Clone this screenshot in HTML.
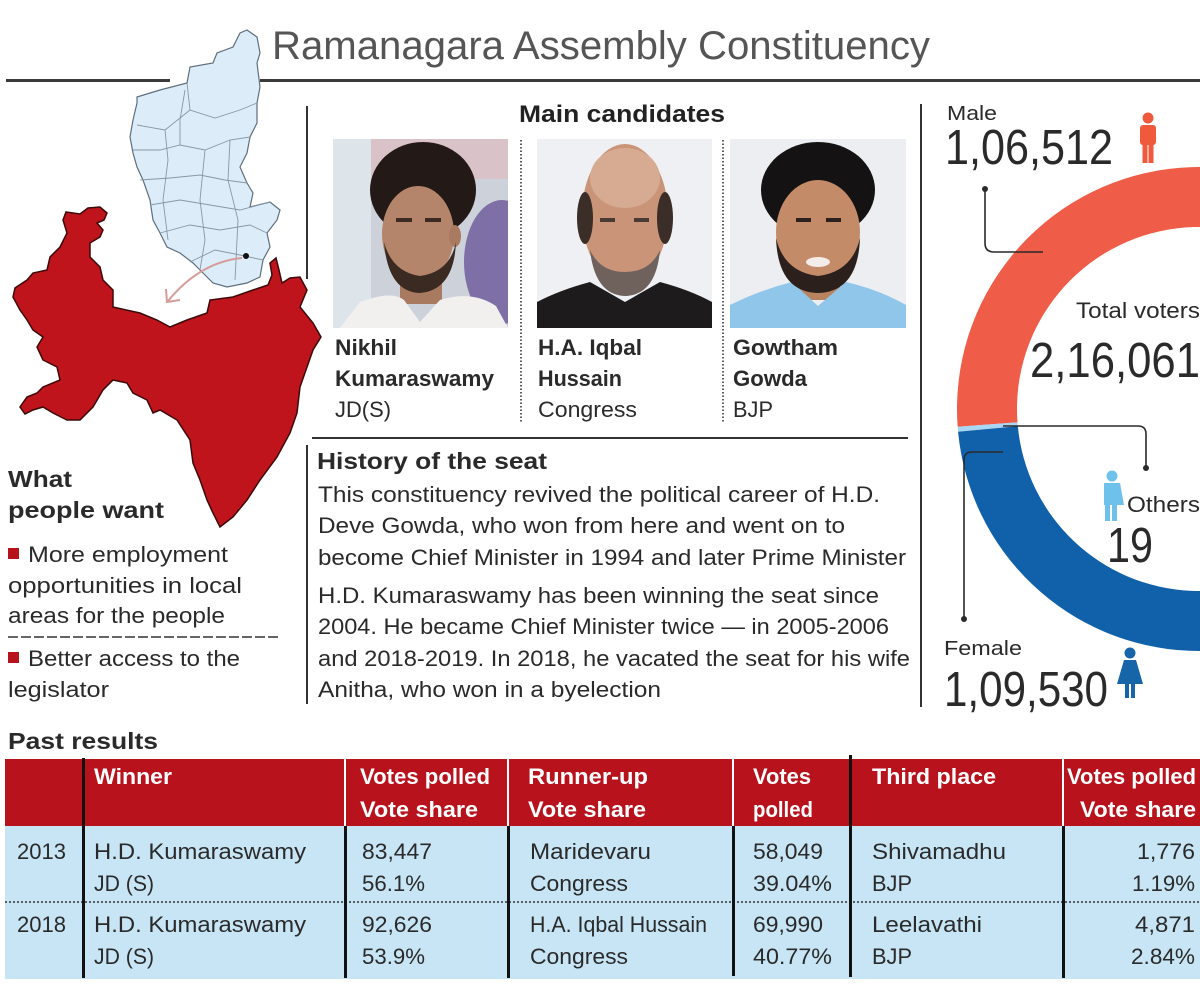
<!DOCTYPE html>
<html><head><meta charset="utf-8">
<style>
html,body{margin:0;padding:0;background:#fff;}
svg{display:block;}
text{font-family:"Liberation Sans",sans-serif;fill:#2a2a2a;}
.b{font-weight:bold;}
.w{fill:#fff;font-weight:bold;}
</style></head>
<body>
<svg width="1200" height="984" viewBox="0 0 1200 984" xmlns="http://www.w3.org/2000/svg">
<defs>
<clipPath id="p1"><rect x="333" y="139" width="175" height="189"/></clipPath>
<clipPath id="p2"><rect x="537" y="139" width="175" height="189"/></clipPath>
<clipPath id="p3"><rect x="730" y="139" width="176" height="189"/></clipPath>
</defs>
<rect width="1200" height="984" fill="#fff"/>

<!-- title -->
<text x="272" y="59" font-size="40" textLength="658" lengthAdjust="spacingAndGlyphs" style="fill:#555">Ramanagara Assembly Constituency</text>
<rect x="6" y="79" width="164" height="3" fill="#3a3a3a"/>
<rect x="260" y="79" width="940" height="3" fill="#3a3a3a"/>

<!-- Karnataka map -->
<polygon points="247,30 257,37 260,53 257,63 260,87 257,103 257,123 250,137 247,153 240,167 247,183 253,193 250,207 270,202 280,210 277,220 267,233 270,247 263,260 260,277 247,283 227,287 213,283 203,273 193,263 180,253 167,247 160,233 153,220 150,200 143,180 137,167 133,153 130,137 133,120 137,103 137,97 160,90 187,83 190,67 213,63 217,53 233,47 240,33" fill="#dcedf9" stroke="#5f6e7c" stroke-width="1.2"/>
<g fill="none" stroke="#8797a6" stroke-width="0.9">
<polyline points="187,83 190,110 215,118 240,110 257,103"/>
<polyline points="137,125 165,130 190,110"/>
<polyline points="133,150 160,150 180,145 205,150 230,140 250,137"/>
<polyline points="140,180 170,178 200,175 225,180 247,183"/>
<polyline points="150,205 180,200 210,205 240,210 270,202"/>
<polyline points="160,233 190,225 220,230 250,225 267,233"/>
<polyline points="190,262 215,250 240,255 263,260"/>
<polyline points="165,130 168,160 163,200 168,240"/>
<polyline points="205,150 200,200 205,240 200,270"/>
<polyline points="230,140 228,180 238,220 235,280"/>
<polyline points="185,90 180,120 180,145"/>
</g>
<path d="M242,258 Q200,262 168,301" fill="none" stroke="#d59c99" stroke-width="2"/>
<path d="M166,289 L167,302 L180,300" fill="none" stroke="#d59c99" stroke-width="2"/>
<circle cx="246" cy="256" r="3" fill="#111"/>

<!-- Ramanagara red shape -->
<polygon points="66,212 80,214 88,208 100,207 107,213 104,220 97,223 103,230 100,237 90,243 90,257 100,267 103,280 113,290 113,307 140,313 157,320 170,327 187,320 207,313 210,300 233,297 253,290 268,285 272,275 270,263 276,258 279,270 282,283 290,278 300,277 307,290 300,307 313,323 321,337 313,350 307,367 300,387 297,413 290,433 277,457 260,480 247,500 233,517 220,527 213,513 207,500 200,480 193,463 190,440 177,420 160,410 153,413 147,400 133,393 127,383 113,380 103,390 93,407 80,420 67,420 53,413 43,407 33,410 25,414 20,407 27,397 37,393 43,387 60,380 57,367 43,360 37,347 43,337 33,330 27,320 20,310 13,297 15,288 27,280 33,273 47,270 50,257 60,247 67,233 63,220" fill="#bf141c" stroke="#3b0a0a" stroke-width="1.5"/>

<!-- dividers -->
<rect x="306" y="106" width="2" height="173" fill="#333"/>
<rect x="306" y="445" width="2" height="259" fill="#333"/>
<rect x="920" y="104" width="2" height="603" fill="#333"/>
<rect x="312" y="437" width="596" height="2" fill="#333"/>
<line x1="521" y1="140" x2="521" y2="422" stroke="#333" stroke-width="1.6" stroke-dasharray="1.5 2"/>
<line x1="723" y1="140" x2="723" y2="422" stroke="#333" stroke-width="1.6" stroke-dasharray="1.5 2"/>

<!-- candidates -->
<text x="519" y="122" font-size="24" class="b" textLength="206" lengthAdjust="spacingAndGlyphs" style="fill:#222">Main candidates</text>

<g clip-path="url(#p1)">
<rect x="333" y="139" width="175" height="189" fill="#cdd2da"/>
<rect x="333" y="139" width="175" height="40" fill="#d9c3c9"/>
<rect x="333" y="139" width="38" height="189" fill="#dde4ea"/>
<ellipse cx="502" cy="262" rx="38" ry="62" fill="#7e6fa6"/>
<ellipse cx="423" cy="190" rx="53" ry="48" fill="#231a17"/>
<ellipse cx="418" cy="234" rx="36" ry="48" fill="#b4856a"/>
<ellipse cx="455" cy="236" rx="6" ry="11" fill="#a87a60"/>
<rect x="396" y="218" width="16" height="4" fill="#3a2a22"/>
<rect x="425" y="218" width="16" height="4" fill="#3a2a22"/>
<rect x="400" y="278" width="42" height="26" fill="#a87a60"/>
<path d="M384,242 Q388,292 420,293 Q454,290 456,242 Q450,272 420,276 Q392,272 384,242 Z" fill="#3a2a22"/>
<path d="M340,328 L360,302 Q392,290 404,300 L420,322 L440,300 Q472,290 496,306 L508,328 Z" fill="#f2f0ef"/>
</g>

<g clip-path="url(#p2)">
<rect x="537" y="139" width="175" height="189" fill="#eef0f3"/>
<ellipse cx="625" cy="214" rx="43" ry="70" fill="#c99478"/>
<ellipse cx="625" cy="178" rx="35" ry="30" fill="#d7ab92"/>
<ellipse cx="585" cy="218" rx="8" ry="26" fill="#3b2d27"/>
<ellipse cx="665" cy="218" rx="8" ry="26" fill="#3b2d27"/>
<rect x="600" y="218" width="15" height="4" fill="#4a3a33"/>
<rect x="634" y="218" width="15" height="4" fill="#4a3a33"/>
<path d="M590,250 Q595,295 625,296 Q656,295 660,250 Q650,272 625,272 Q600,272 590,250 Z" fill="#6f625c"/>
<path d="M537,328 L537,302 Q560,290 590,282 L625,302 L660,282 Q690,290 712,302 L712,328 Z" fill="#1d1b1c"/>
</g>

<g clip-path="url(#p3)">
<rect x="730" y="139" width="176" height="189" fill="#eceef1"/>
<rect x="796" y="268" width="44" height="32" fill="#b9835f"/>
<path d="M730,328 L730,305 Q760,290 792,282 L818,306 L846,282 Q880,290 906,305 L906,328 Z" fill="#8fc6ea"/>
<ellipse cx="818" cy="190" rx="57" ry="48" fill="#141212"/>
<ellipse cx="818" cy="232" rx="42" ry="52" fill="#c38b68"/>
<rect x="796" y="218" width="15" height="4" fill="#2b201b"/>
<rect x="826" y="218" width="15" height="4" fill="#2b201b"/>
<path d="M776,238 Q778,292 818,293 Q858,292 860,238 Q852,272 818,276 Q784,272 776,238 Z" fill="#2b201b"/>
<ellipse cx="818" cy="262" rx="12" ry="5" fill="#f3ece8"/>
</g>

<text x="335" y="355" font-size="22" class="b" textLength="62" lengthAdjust="spacingAndGlyphs">Nikhil</text>
<text x="335" y="386" font-size="22" class="b" textLength="159" lengthAdjust="spacingAndGlyphs">Kumaraswamy</text>
<text x="335" y="417" font-size="22" textLength="56" lengthAdjust="spacingAndGlyphs">JD(S)</text>
<text x="538" y="355" font-size="22" class="b" textLength="104" lengthAdjust="spacingAndGlyphs">H.A. Iqbal</text>
<text x="538" y="386" font-size="22" class="b" textLength="84" lengthAdjust="spacingAndGlyphs">Hussain</text>
<text x="538" y="417" font-size="22" textLength="99" lengthAdjust="spacingAndGlyphs">Congress</text>
<text x="733" y="355" font-size="22" class="b" textLength="105" lengthAdjust="spacingAndGlyphs">Gowtham</text>
<text x="733" y="386" font-size="22" class="b" textLength="74" lengthAdjust="spacingAndGlyphs">Gowda</text>
<text x="733" y="417" font-size="22" textLength="40" lengthAdjust="spacingAndGlyphs">BJP</text>

<!-- history -->
<text x="317" y="469" font-size="23" class="b" textLength="230" lengthAdjust="spacingAndGlyphs">History of the seat</text>
<text x="318" y="502" font-size="22" textLength="562" lengthAdjust="spacingAndGlyphs">This constituency revived the political career of H.D.</text>
<text x="318" y="533" font-size="22" textLength="527" lengthAdjust="spacingAndGlyphs">Deve Gowda, who won from here and went on to</text>
<text x="318" y="565" font-size="22" textLength="588" lengthAdjust="spacingAndGlyphs">become Chief Minister in 1994 and later Prime Minister</text>
<text x="318" y="603" font-size="22" textLength="561" lengthAdjust="spacingAndGlyphs">H.D. Kumaraswamy has been winning the seat since</text>
<text x="318" y="634" font-size="22" textLength="571" lengthAdjust="spacingAndGlyphs">2004. He became Chief Minister twice — in 2005-2006</text>
<text x="318" y="666" font-size="22" textLength="592" lengthAdjust="spacingAndGlyphs">and 2018-2019. In 2018, he vacated the seat for his wife</text>
<text x="318" y="697" font-size="22" textLength="343" lengthAdjust="spacingAndGlyphs">Anitha, who won in a byelection</text>

<!-- what people want -->
<text x="8" y="487" font-size="23" class="b" textLength="64" lengthAdjust="spacingAndGlyphs">What</text>
<text x="8" y="518" font-size="23" class="b" textLength="156" lengthAdjust="spacingAndGlyphs">people want</text>
<rect x="8" y="548" width="11" height="11" fill="#b8121c"/>
<text x="28" y="562" font-size="22" textLength="200" lengthAdjust="spacingAndGlyphs">More employment</text>
<text x="8" y="593" font-size="22" textLength="234" lengthAdjust="spacingAndGlyphs">opportunities in local</text>
<text x="8" y="623" font-size="22" textLength="217" lengthAdjust="spacingAndGlyphs">areas for the people</text>
<line x1="8" y1="637" x2="278" y2="637" stroke="#333" stroke-width="1.5" stroke-dasharray="10 3"/>
<rect x="8" y="652" width="11" height="11" fill="#b8121c"/>
<text x="28" y="666" font-size="22" textLength="212" lengthAdjust="spacingAndGlyphs">Better access to the</text>
<text x="8" y="697" font-size="22" textLength="101" lengthAdjust="spacingAndGlyphs">legislator</text>

<!-- donut -->
<path d="M957.65,426.72 A242,242 0 0 1 1437.32,366.98 L1378.24,377.40 A182,182 0 0 0 1017.49,422.33 Z" fill="#ef5c47"/>
<path d="M957.65,426.72 L1017.49,422.33 L1017.81,426.13 L958.07,431.77 Z" fill="#a9d6f2"/>
<path d="M958.07,431.77 A242,242 0 0 0 1437.32,451.02 L1378.24,440.60 A182,182 0 0 1 1017.81,426.13 Z" fill="#1060aa"/>

<!-- leaders -->
<g fill="none" stroke="#2a2a2a" stroke-width="1.6">
<path d="M985,189 L985,243 Q985,252 994,252 L1043,252"/>
<path d="M1003,426 L1138,426 Q1146,426 1146,434 L1146,467"/>
<path d="M1003,452 L972,452 Q964,452 964,460 L964,618"/>
</g>
<circle cx="985" cy="189" r="3" fill="#2a2a2a"/>
<circle cx="1146" cy="468" r="3" fill="#2a2a2a"/>
<circle cx="964" cy="619" r="3" fill="#2a2a2a"/>

<!-- labels right -->
<text x="947" y="120" font-size="20" textLength="50" lengthAdjust="spacingAndGlyphs">Male</text>
<text x="945" y="164" font-size="49" textLength="168" lengthAdjust="spacingAndGlyphs" style="fill:#2a2a2a">1,06,512</text>
<text x="1076" y="318" font-size="22" textLength="124" lengthAdjust="spacingAndGlyphs">Total voters</text>
<text x="1030" y="377" font-size="49" textLength="170" lengthAdjust="spacingAndGlyphs" style="fill:#2a2a2a">2,16,061</text>
<text x="1127" y="512" font-size="22" textLength="73" lengthAdjust="spacingAndGlyphs">Others</text>
<text x="1107" y="562" font-size="49" textLength="46" lengthAdjust="spacingAndGlyphs" style="fill:#2a2a2a">19</text>
<text x="944" y="655" font-size="20" textLength="78" lengthAdjust="spacingAndGlyphs">Female</text>
<text x="944" y="706" font-size="49" textLength="164" lengthAdjust="spacingAndGlyphs" style="fill:#2a2a2a">1,09,530</text>

<!-- icons -->
<g fill="#ef5a3c">
<circle cx="1148" cy="118" r="5.5"/>
<rect x="1140" y="125" width="16" height="20" rx="3"/>
<rect x="1142.5" y="140" width="5" height="23"/>
<rect x="1148.5" y="140" width="5" height="23"/>
</g>
<g fill="#6ec1ea">
<circle cx="1112" cy="476" r="5.5"/>
<path d="M1104,483 L1120,483 L1124,505 L1104,505 Z"/>
<rect x="1105" y="503" width="5" height="18"/>
<rect x="1112" y="503" width="5" height="18"/>
</g>
<g fill="#1565a8">
<circle cx="1130" cy="653" r="5.5"/>
<path d="M1124,660 L1136,660 L1143,684 L1117,684 Z"/>
<rect x="1125" y="682" width="4" height="16"/>
<rect x="1131" y="682" width="4" height="16"/>
</g>

<!-- table -->
<text x="8" y="749" font-size="23" class="b" textLength="150" lengthAdjust="spacingAndGlyphs">Past results</text>
<rect x="5" y="759" width="1195" height="67" fill="#b8121c"/>
<rect x="5" y="826" width="1195" height="153" fill="#c7e5f5"/>
<line x1="5" y1="902" x2="1200" y2="902" stroke="#333" stroke-width="1.5" stroke-dasharray="2 2"/>
<g fill="#fff">
<rect x="344" y="759" width="2" height="67"/>
<rect x="507" y="759" width="2" height="67"/>
<rect x="732" y="759" width="2" height="67"/>
<rect x="1062" y="759" width="2" height="67"/>
</g>
<g fill="#111">
<rect x="82" y="758" width="3" height="220"/>
<rect x="344" y="826" width="3" height="152"/>
<rect x="507" y="826" width="3" height="152"/>
<rect x="732" y="826" width="3" height="150"/>
<rect x="849" y="755" width="3" height="222"/>
<rect x="1062" y="826" width="3" height="152"/>
</g>

<text x="94" y="784" font-size="22" class="w" textLength="78" lengthAdjust="spacingAndGlyphs">Winner</text>
<text x="360" y="784" font-size="22" class="w" textLength="130" lengthAdjust="spacingAndGlyphs">Votes polled</text>
<text x="360" y="817" font-size="22" class="w" textLength="118" lengthAdjust="spacingAndGlyphs">Vote share</text>
<text x="528" y="784" font-size="22" class="w" textLength="120" lengthAdjust="spacingAndGlyphs">Runner-up</text>
<text x="528" y="817" font-size="22" class="w" textLength="118" lengthAdjust="spacingAndGlyphs">Vote share</text>
<text x="753" y="784" font-size="22" class="w" textLength="58" lengthAdjust="spacingAndGlyphs">Votes</text>
<text x="753" y="817" font-size="22" class="w" textLength="60" lengthAdjust="spacingAndGlyphs">polled</text>
<text x="872" y="784" font-size="22" class="w" textLength="124" lengthAdjust="spacingAndGlyphs">Third place</text>
<text x="1196" y="784" font-size="22" class="w" text-anchor="end" textLength="129" lengthAdjust="spacingAndGlyphs">Votes polled</text>
<text x="1196" y="817" font-size="22" class="w" text-anchor="end" textLength="116" lengthAdjust="spacingAndGlyphs">Vote share</text>

<text x="17" y="859" font-size="22" textLength="49" lengthAdjust="spacingAndGlyphs">2013</text>
<text x="94" y="859" font-size="22" textLength="212" lengthAdjust="spacingAndGlyphs">H.D. Kumaraswamy</text>
<text x="362" y="859" font-size="22" textLength="70" lengthAdjust="spacingAndGlyphs">83,447</text>
<text x="530" y="859" font-size="22" textLength="121" lengthAdjust="spacingAndGlyphs">Maridevaru</text>
<text x="753" y="859" font-size="22" textLength="70" lengthAdjust="spacingAndGlyphs">58,049</text>
<text x="872" y="859" font-size="22" textLength="134" lengthAdjust="spacingAndGlyphs">Shivamadhu</text>
<text x="1195" y="859" font-size="22" text-anchor="end" textLength="58" lengthAdjust="spacingAndGlyphs">1,776</text>

<text x="94" y="891" font-size="22" textLength="60" lengthAdjust="spacingAndGlyphs">JD (S)</text>
<text x="362" y="891" font-size="22" textLength="63" lengthAdjust="spacingAndGlyphs">56.1%</text>
<text x="530" y="891" font-size="22" textLength="98" lengthAdjust="spacingAndGlyphs">Congress</text>
<text x="753" y="891" font-size="22" textLength="79" lengthAdjust="spacingAndGlyphs">39.04%</text>
<text x="872" y="891" font-size="22" textLength="40" lengthAdjust="spacingAndGlyphs">BJP</text>
<text x="1195" y="891" font-size="22" text-anchor="end" textLength="63" lengthAdjust="spacingAndGlyphs">1.19%</text>

<text x="17" y="932" font-size="22" textLength="49" lengthAdjust="spacingAndGlyphs">2018</text>
<text x="94" y="932" font-size="22" textLength="212" lengthAdjust="spacingAndGlyphs">H.D. Kumaraswamy</text>
<text x="362" y="932" font-size="22" textLength="70" lengthAdjust="spacingAndGlyphs">92,626</text>
<text x="530" y="932" font-size="22" textLength="177" lengthAdjust="spacingAndGlyphs">H.A. Iqbal Hussain</text>
<text x="753" y="932" font-size="22" textLength="70" lengthAdjust="spacingAndGlyphs">69,990</text>
<text x="872" y="932" font-size="22" textLength="110" lengthAdjust="spacingAndGlyphs">Leelavathi</text>
<text x="1195" y="932" font-size="22" text-anchor="end" textLength="60" lengthAdjust="spacingAndGlyphs">4,871</text>

<text x="94" y="964" font-size="22" textLength="60" lengthAdjust="spacingAndGlyphs">JD (S)</text>
<text x="362" y="964" font-size="22" textLength="63" lengthAdjust="spacingAndGlyphs">53.9%</text>
<text x="530" y="964" font-size="22" textLength="98" lengthAdjust="spacingAndGlyphs">Congress</text>
<text x="753" y="964" font-size="22" textLength="79" lengthAdjust="spacingAndGlyphs">40.77%</text>
<text x="872" y="964" font-size="22" textLength="40" lengthAdjust="spacingAndGlyphs">BJP</text>
<text x="1195" y="964" font-size="22" text-anchor="end" textLength="64" lengthAdjust="spacingAndGlyphs">2.84%</text>
</svg>
</body></html>
